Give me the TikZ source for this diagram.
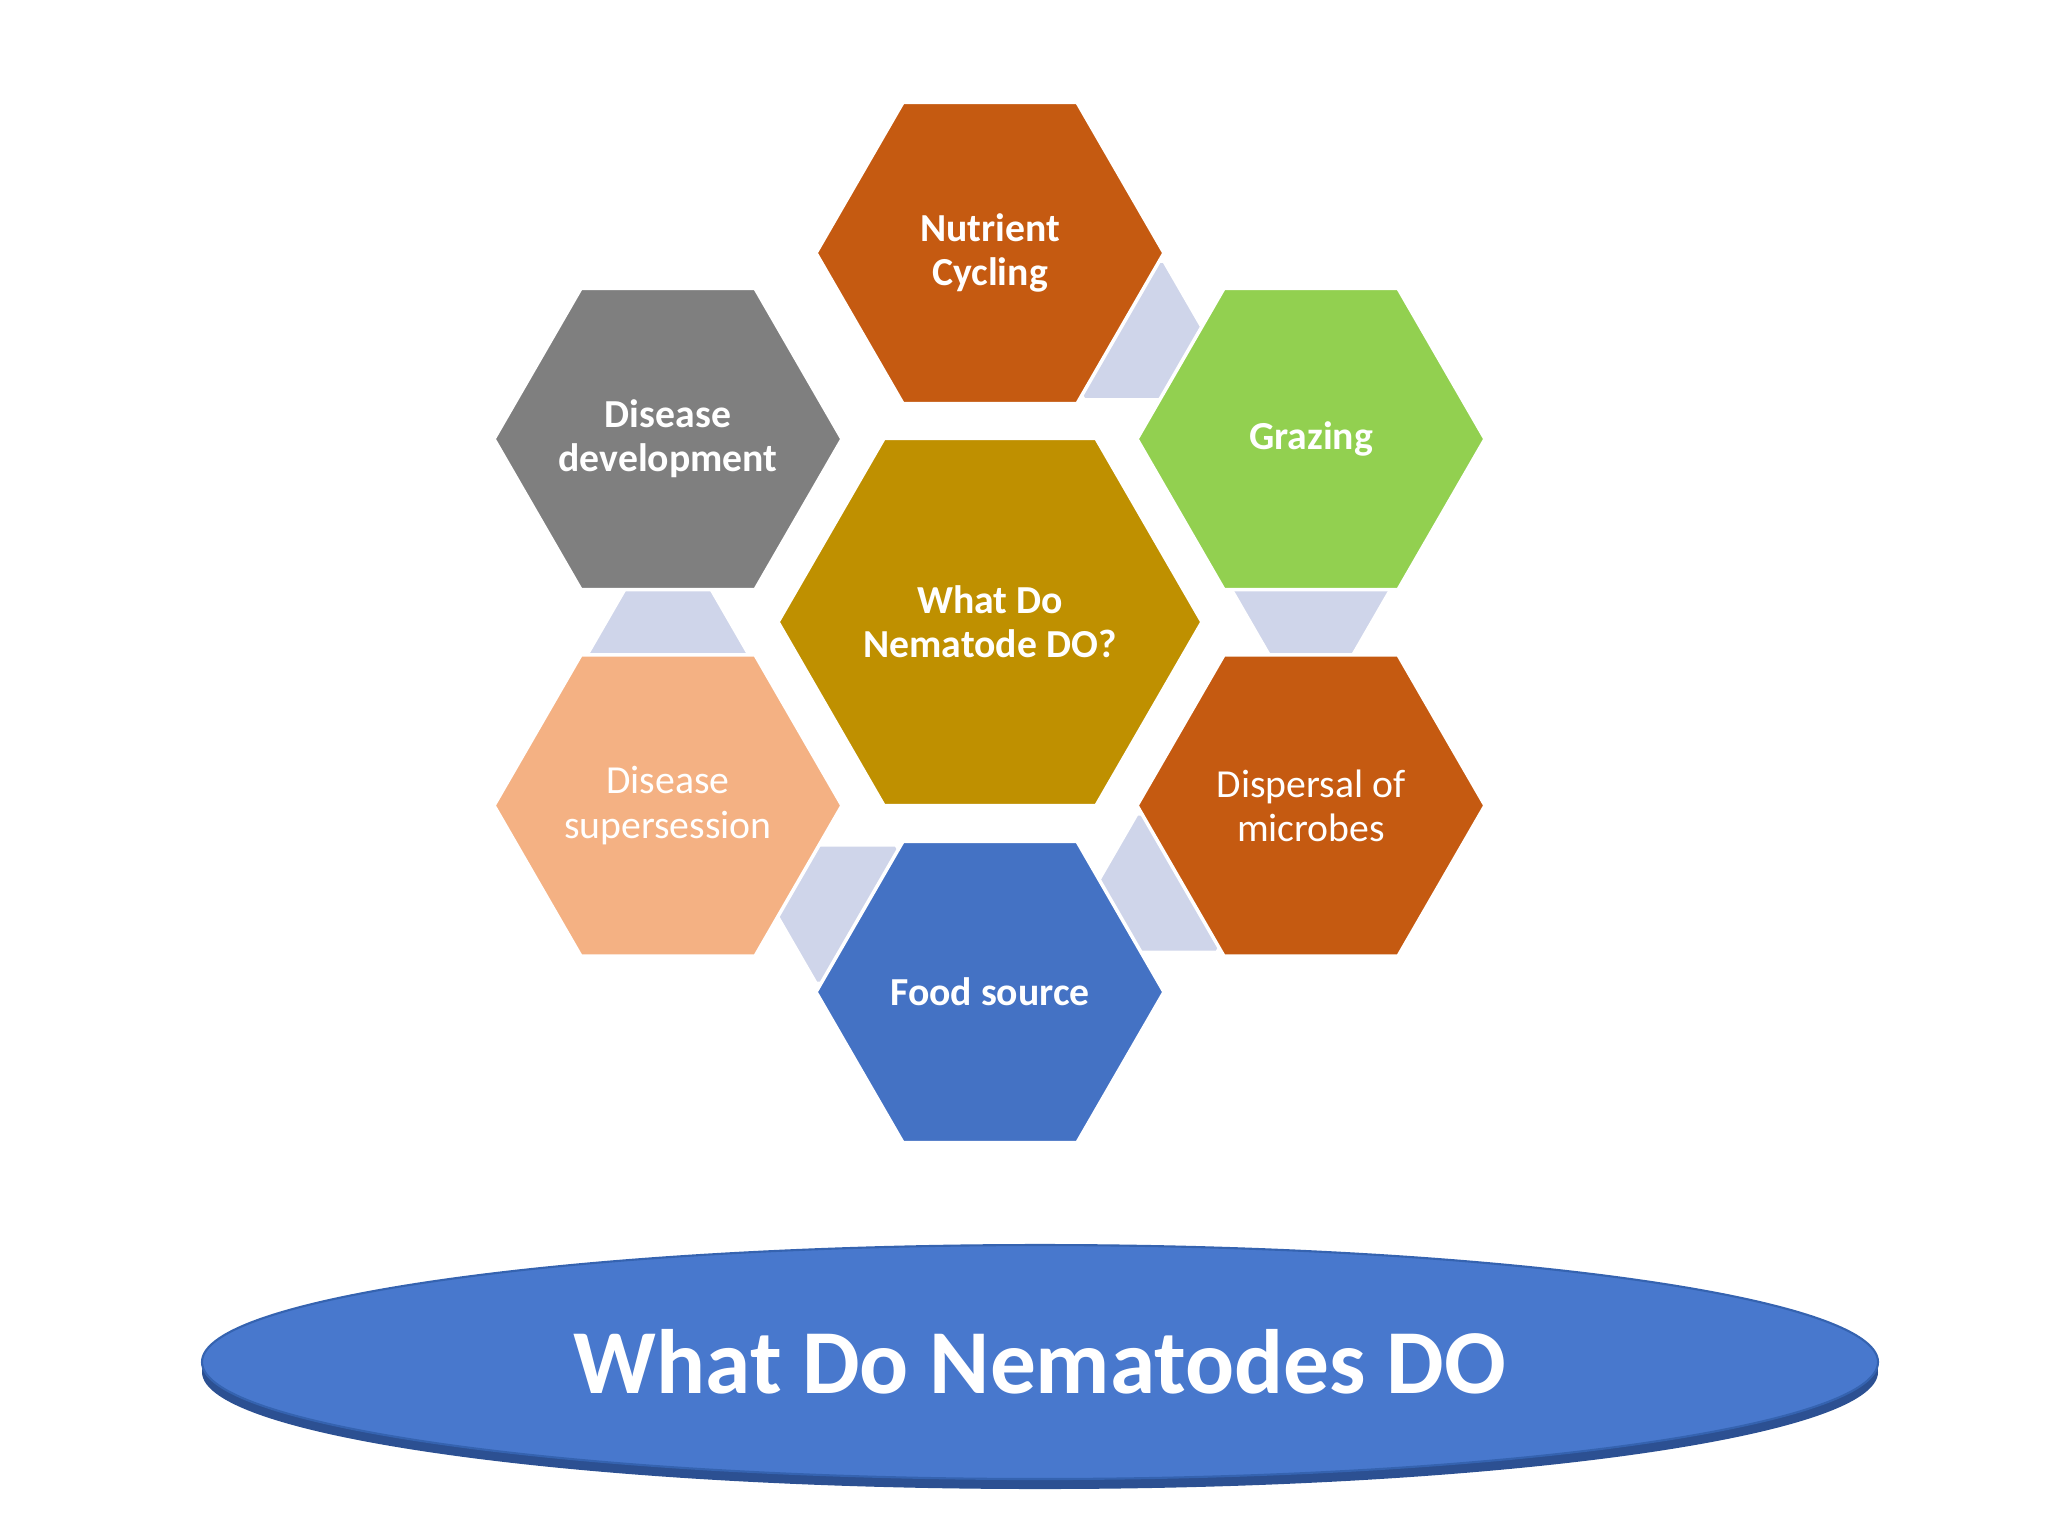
\documentclass[tikz,border=0pt]{standalone}
\usepackage{fontspec}
\setmainfont{Carlito}
\usetikzlibrary{shapes.geometric}
\definecolor{linkc}{HTML}{CFD5EA}
\definecolor{nutc}{HTML}{C55A11}
\definecolor{grazc}{HTML}{92D050}
\definecolor{devc}{HTML}{7F7F7F}
\definecolor{cenc}{HTML}{BF9000}
\definecolor{supc}{HTML}{F4B183}
\definecolor{dispc}{HTML}{C55A11}
\definecolor{foodc}{HTML}{4472C4}
\definecolor{ellc}{HTML}{4878CD}
\definecolor{rimc}{HTML}{2C5092}
\definecolor{elline}{HTML}{3563B0}
\begin{document}
\begin{tikzpicture}[x=0.1mm,y=-0.1mm,
  hexo/.style={regular polygon, regular polygon sides=6, minimum size=34.8mm,
    inner sep=-20pt, draw=white, line width=1pt, text=white, align=center,
    font=\fontsize{11.3pt}{12.6pt}\selectfont},
  hexb/.style={hexo, font=\bfseries\fontsize{11.3pt}{12.6pt}\selectfont},
  hexc/.style={hexb, minimum size=42.4mm},
  link/.style={regular polygon, regular polygon sides=6, minimum size=16mm,
    inner sep=0pt, draw=white, line width=1pt, fill=linkc},
  oval/.style={ellipse, minimum width=167.6mm, minimum height=23.4mm, inner sep=0pt}
]
\useasboundingbox (0,0) rectangle (2048,1536);
\fill[white] (0,0) rectangle (2048,1536);
% link hexagons (behind)
\node[link] (l1) at (1124,330.5) {};
\node[link] (l2) at (1311,589) {};
\node[link] (l3) at (1177,883) {};
\node[link] (l4) at (856,914) {};
\node[link] (l5) at (668,653) {};
% main hexagons
\node[hexb, fill=nutc]  (nut)  at (990,253)   {Nutrient\\Cycling};
\node[hexb, fill=grazc] (graz) at (1311,439)  {Grazing};
\node[hexo, fill=dispc] (disp) at (1311,805.5){Dispersal of\\microbes};
\node[hexb, fill=foodc] (food) at (990,992)   {Food source};
\node[hexo, fill=supc]  (sup)  at (668,805.5) {Disease\\supersession};
\node[hexb, fill=devc]  (dev)  at (668,439)   {Disease\\development};
\node[hexc, fill=cenc]  (cen)  at (990,622)   {What Do\\Nematode DO?};
% title oval
\node[oval, fill=rimc] (rim) at (1040,1372) {};
\node[oval, fill=ellc, draw=elline, line width=0.6pt, text=white,
  font=\bfseries\fontsize{26pt}{30pt}\selectfont] (title) at (1040,1362) {What Do Nematodes DO};
\end{tikzpicture}
\end{document}
